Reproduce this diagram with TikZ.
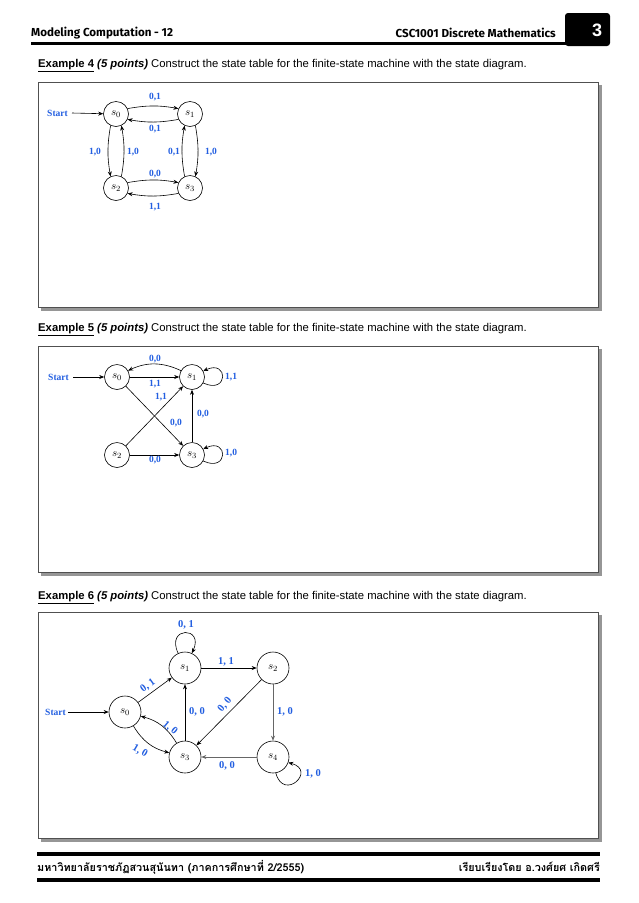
\documentclass[tikz,border=0pt]{standalone}
\usepackage{fontspec}
\setmainfont{Liberation Sans}
\newfontfamily\lblfont{Liberation Serif}
\newfontfamily\hdrfont{Fira Sans}
\newfontfamily\thaifont[Script=Thai]{Loma}
\usetikzlibrary{arrows.meta}
\definecolor{lblblue}{RGB}{35,95,225}
\definecolor{boxline}{RGB}{80,80,80}
\definecolor{shadowgray}{RGB}{150,150,150}
\begin{document}
\begin{tikzpicture}[x=1pt,y=1pt,
 st/.style={circle,draw,line width=0.6pt,minimum size=25pt,inner sep=0pt,font=\fontsize{11}{11}\selectfont},
 stbig/.style={st,minimum size=32pt},
 lbl/.style={text=lblblue,font=\lblfont\bfseries\fontsize{9.5}{9.5}\selectfont,inner sep=0pt},
 lblbig/.style={lbl,font=\lblfont\bfseries\fontsize{10.5}{10.5}\selectfont},
 arr/.style={line width=0.6pt,-{Stealth[length=5pt,width=4pt]}},
 grayarr/.style={arr,draw=black!60},
 shadowbox/.style={fill=shadowgray,draw=none},
 mainbox/.style={fill=white,draw=boxline,line width=0.8pt},
 title/.style={anchor=west,font=\fontsize{11.3}{13}\selectfont,inner sep=0pt},
 hdr/.style={font=\hdrfont\bfseries\fontsize{11.6}{12}\selectfont,inner sep=0pt},
 foot/.style={font=\thaifont\bfseries\fontsize{10.8}{12}\selectfont,inner sep=0pt}
]
\useasboundingbox[fill=white] (0,0) rectangle (638,-903);

% header
\node[hdr,anchor=west] (htl) at (31,-33) {Modeling Computation - 12};
\node[hdr,anchor=east] (htr) at (556,-33) {CSC1001 Discrete Mathematics};
\draw[line width=3pt] (31,-43.5) -- (566,-43.5);
\node[fill=black,rounded corners=3pt,minimum width=45pt,minimum height=33pt,inner sep=0pt] (tab) at (587.5,-29.5) {};
\node[text=white,font=\fontsize{18}{18}\selectfont\bfseries,inner sep=0pt] (tabnum) at (597,-30) {3};

% titles
\node[title] (ex4) at (38,-66) {\underline{\textbf{Example 4}} \textbf{\textit{(5 points)}} Construct the state table for the finite-state machine with the state diagram.};
\node[title] (ex5) at (38,-330) {\underline{\textbf{Example 5}} \textbf{\textit{(5 points)}} Construct the state table for the finite-state machine with the state diagram.};
\node[title] (ex6) at (38,-598) {\underline{\textbf{Example 6}} \textbf{\textit{(5 points)}} Construct the state table for the finite-state machine with the state diagram.};

% boxes
\fill[shadowbox] (41,-85) rectangle (602,-311);
\draw[mainbox] (38,-82) rectangle (598,-307);
\fill[shadowbox] (41,-349) rectangle (602,-576);
\draw[mainbox] (38,-346) rectangle (598,-572);
\fill[shadowbox] (41,-615) rectangle (602,-842);
\draw[mainbox] (38,-612) rectangle (598,-838);

% ---------- Example 4 ----------
\node[st] (a0) at (116,-114) {$s_0$};
\node[st] (a1) at (190,-114) {$s_1$};
\node[st] (a2) at (116,-188) {$s_2$};
\node[st] (a3) at (190,-188) {$s_3$};
\node[lbl,anchor=east] (astart) at (68,-113) {Start};
\coordinate (astartpt) at ([xshift=4pt]astart.east);
\draw[arr] (astartpt) -- (a0);
\draw[arr] (a0.25) to[bend left=10] (a1.155);
\draw[arr] (a1.205) to[bend left=10] (a0.335);
\draw[arr] (a0.245) to[bend right=10] (a2.115);
\draw[arr] (a2.65) to[bend right=10] (a0.295);
\draw[arr] (a1.295) to[bend left=10] (a3.65);
\draw[arr] (a3.115) to[bend left=10] (a1.245);
\draw[arr] (a2.25) to[bend left=10] (a3.155);
\draw[arr] (a3.205) to[bend left=10] (a2.335);
\node[lbl] (la1) at (155,-97) {0,1};
\node[lbl] (la2) at (155,-129) {0,1};
\node[lbl] (la3) at (95,-152) {1,0};
\node[lbl] (la4) at (133,-152) {1,0};
\node[lbl] (la5) at (174,-152) {0,1};
\node[lbl] (la6) at (211,-152) {1,0};
\node[lbl] (la7) at (155,-174) {0,0};
\node[lbl] (la8) at (155,-207) {1,1};

% ---------- Example 5 ----------
\node[st] (b0) at (117,-377) {$s_0$};
\node[st] (b1) at (192,-377) {$s_1$};
\node[st] (b2) at (117,-455) {$s_2$};
\node[st] (b3) at (192,-455) {$s_3$};
\node[lbl,anchor=east] (bstart) at (69,-377) {Start};
\coordinate (bstartpt) at ([xshift=4pt]bstart.east);
\draw[arr] (bstartpt) -- (b0);
\draw[arr] (b1.150) to[bend right=25] (b0.30);
\draw[arr] (b0) -- (b1);
\draw[arr] (b2) -- (b1);
\draw[arr] (b0) -- (b3);
\draw[arr] (b3) -- (b1);
\draw[arr] (b2) -- (b3);
\draw[arr] (b1.-28) .. controls +(-25:28) and +(25:28) .. (b1.28);
\draw[arr] (b3.-28) .. controls +(-25:28) and +(25:28) .. (b3.28);
\node[lbl] (lb1) at (155,-359) {0,0};
\node[lbl] (lb2) at (155,-384) {1,1};
\node[lbl] (lb3) at (161,-397) {1,1};
\node[lbl] (lb4) at (203,-414) {0,0};
\node[lbl] (lb5) at (176,-423) {0,0};
\node[lbl] (lb6) at (155,-460) {0,0};
\node[lbl,anchor=west] (lb7) at (225,-377) {1,1};
\node[lbl,anchor=west] (lb8) at (225,-453) {1,0};

% ---------- Example 6 ----------
\node[stbig] (c0) at (125,-712) {$s_0$};
\node[stbig] (c1) at (185,-668) {$s_1$};
\node[stbig] (c2) at (273,-668) {$s_2$};
\node[stbig] (c3) at (185,-757) {$s_3$};
\node[stbig] (c4) at (273,-757) {$s_4$};
\node[lbl,anchor=east] (cstart) at (66,-712) {Start};
\coordinate (cstartpt) at ([xshift=2pt]cstart.east);
\draw[arr] (cstartpt) -- (c0);
\draw[arr] (c1.115) .. controls +(115:30) and +(65:30) .. (c1.65);
\draw[arr] (c1) -- (c2);
\draw[arr] (c0) -- (c1);
\draw[arr] (c3) -- (c1);
\draw[arr] (c2) -- (c3);
\draw[grayarr] (c2) -- (c4);
\draw[grayarr] (c4) -- (c3);
\draw[arr] (c3) to[bend right=22] (c0);
\draw[arr] (c0) to[bend right=22] (c3);
\draw[arr] (c4.-80) .. controls +(-75:30) and +(-15:30) .. (c4.-20);
\node[lblbig] (lc1) at (186,-625) {0, 1};
\node[lblbig] (lc2) at (226,-662) {1, 1};
\node[lblbig,rotate=36] (lc3) at (148,-686) {0, 1};
\node[lblbig] (lc4) at (197,-712) {0, 0};
\node[lblbig,rotate=50] (lc5) at (225,-705) {0, 0};
\node[lblbig,rotate=-40] (lc6) at (170,-728) {1, 0};
\node[lblbig] (lc7) at (285,-712) {1, 0};
\node[lblbig,rotate=-30] (lc8) at (140,-751) {1, 0};
\node[lblbig] (lc9) at (227,-766) {0, 0};
\node[lblbig,anchor=west] (lc10) at (305,-774) {1, 0};

% footer
\draw[line width=3.5pt] (37,-854) -- (600,-854);
\node[foot,anchor=west] (fl) at (37,-867) {มหาวิทยาลัยราชภัฏสวนสุนันทา (ภาคการศึกษาที่ 2/2555)};
\node[foot,anchor=east] (fr) at (600,-867) {เรียบเรียงโดย อ.วงศ์ยศ เกิดศรี};
\draw[line width=3.5pt] (37,-880) -- (600,-880);
\end{tikzpicture}
\end{document}
